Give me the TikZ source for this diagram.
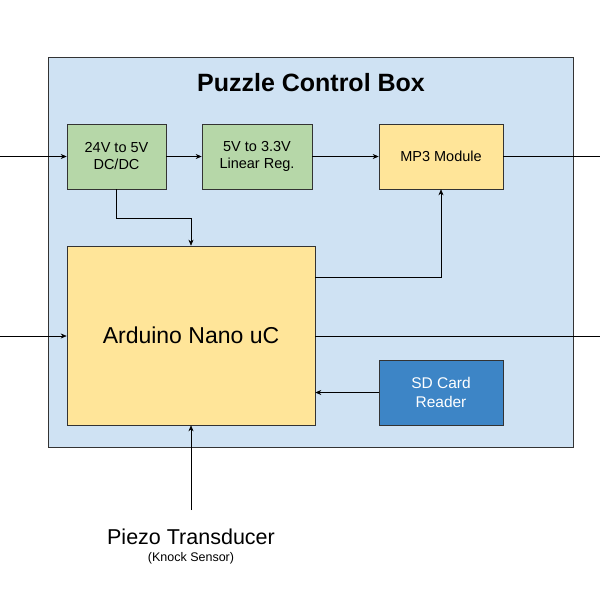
\documentclass[tikz,border=0pt]{standalone}
\usepackage{fontspec}
\setmainfont{Liberation Sans}
\usetikzlibrary{arrows.meta}
\definecolor{boxblue}{HTML}{CFE2F3}
\definecolor{grn}{HTML}{B6D7A8}
\definecolor{yel}{HTML}{FFE599}
\definecolor{sdb}{HTML}{3D85C6}
\begin{document}
\begin{tikzpicture}[x=1pt,y=-1pt,
  blk/.style={draw=black!80,line width=0.6pt,align=center,font=\fontsize{14.5}{17}\selectfont},
  arr/.style={-{Stealth[length=6pt,width=5pt]},line width=0.6pt},
  ln/.style={line width=0.6pt}]
\useasboundingbox (0,0) rectangle (600,600);
\draw[fill=boxblue,draw=black!80,line width=0.6pt] (48,57) rectangle (573,447);
\node[font=\bfseries\fontsize{25}{28}\selectfont] (title) at (311,83) {Puzzle Control Box};
\node[blk,fill=grn,minimum width=99pt,minimum height=65pt] (dc) at (116.5,156.5) {24V to 5V\\DC/DC};
\node[blk,fill=grn,minimum width=110pt,minimum height=65pt] (lin) at (257,156.5) {5V to 3.3V\\Linear Reg.};
\node[blk,fill=yel,minimum width=124pt,minimum height=65pt] (mp3) at (441,156.5) {MP3 Module};
\node[blk,fill=yel,minimum width=248pt,minimum height=179pt,font=\fontsize{23}{27}\selectfont] (ard) at (191,335.5) {Arduino Nano uC};
\node[blk,fill=sdb,text=white,minimum width=124pt,minimum height=65pt,font=\fontsize{15.5}{19}\selectfont] (sd) at (441,392.5) {SD Card\\Reader};
\node[font=\fontsize{21.5}{25}\selectfont] (pz) at (191,537) {Piezo Transducer};
\node[font=\fontsize{12.5}{14}\selectfont] (ks) at (191,558) {(Knock Sensor)};
\coordinate (inA) at (0,156.5);
\coordinate (inB) at (0,336);
\coordinate (outA) at (600,156.5);
\coordinate (outB) at (600,336);
\coordinate (pzt) at (191,510);
\draw[arr] (inA) -- (dc.west);
\draw[arr] (dc.east) -- (lin.west);
\draw[arr] (lin.east) -- (mp3.west);
\draw[ln] (mp3.east) -- (outA);
\draw[arr] (inB) -- (ard.west|-inB);
\draw[ln] (ard.east|-outB) -- (outB);
\draw[arr] (dc.south) -- (116.5,218) -- (191,218) -- (ard.north);
\draw[arr] (315,277) -- (441,277) -- (mp3.south);
\draw[arr] (sd.west) -- (ard.east|-sd.west);
\draw[arr] (pzt) -- (ard.south);
\end{tikzpicture}
\end{document}
